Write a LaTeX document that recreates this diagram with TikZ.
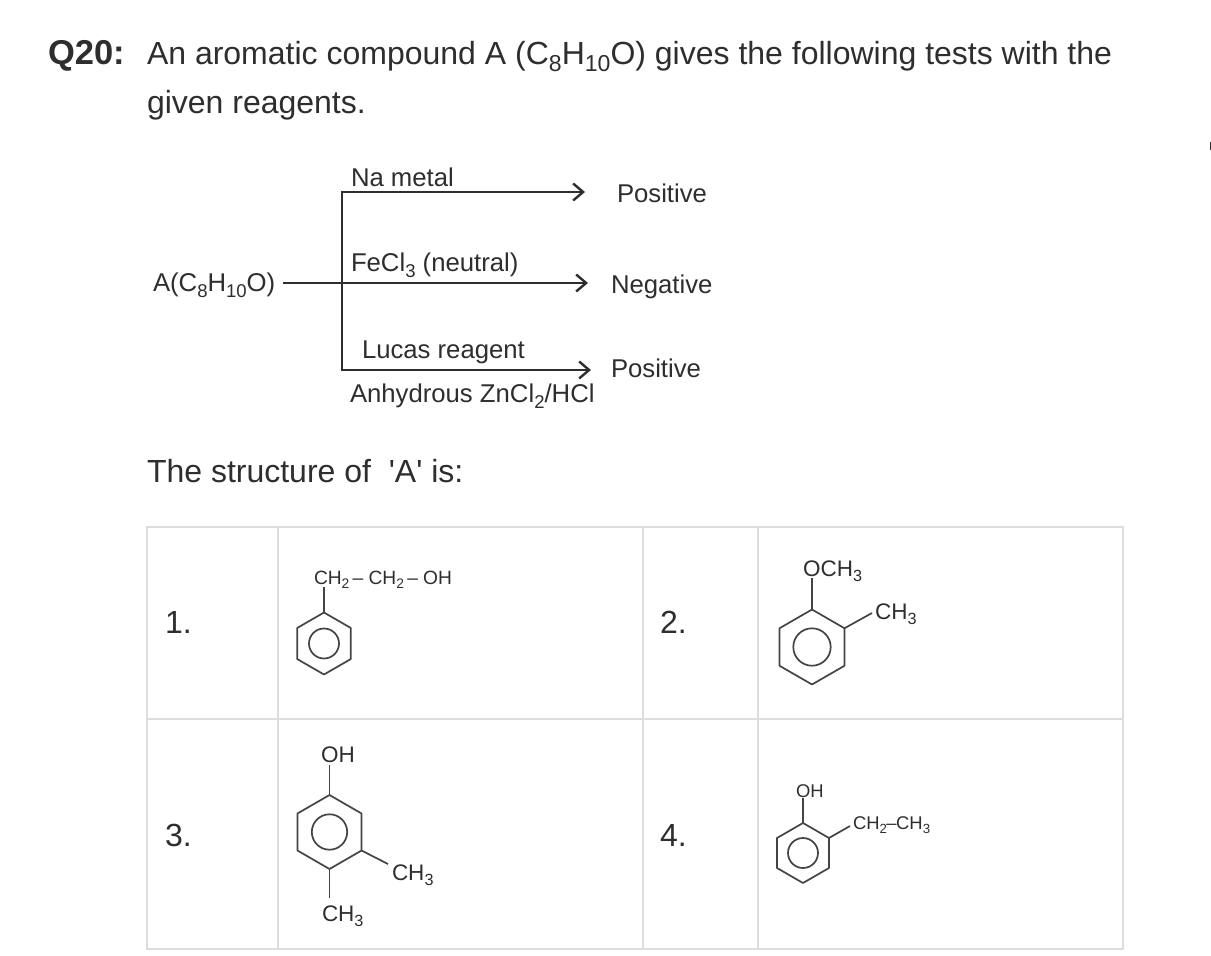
\documentclass[tikz,border=0pt]{standalone}
\usepackage{fontspec}
\usepackage{graphicx}
\setmainfont{Liberation Sans}
\newfontfamily\plainf{Liberation Sans}
\newcommand{\sbs}[1]{\raisebox{-.24em}{\scalebox{.72}{#1}}}
\definecolor{ink}{HTML}{2E2E2E}
\definecolor{gridc}{HTML}{DDDDDD}
\definecolor{bondc}{HTML}{444444}
\usetikzlibrary{arrows.meta,calc}
\tikzset{
  x=1pt,y=-1pt,
  txt/.style={anchor=base west,inner sep=0pt,outer sep=0pt,text=ink},
  big/.style={txt,font=\fontsize{32}{36}\selectfont},
  rx/.style={txt,font=\fontsize{25.7}{30}\selectfont},
  chemA/.style={txt,font=\fontsize{22.5}{26}\selectfont},
  chemB/.style={txt,font=\fontsize{18.4}{22}\selectfont},
  bond/.style={draw=bondc,line width=1.7pt,line join=round},
  rxline/.style={draw=ink,line width=2pt},
  rxarrow/.style={rxline,-{Straight Barb[length=10pt,width=17pt,line width=2.4pt]}},
  grid line/.style={draw=gridc,line width=1.6pt}
}
% #1 name, #2 cx, #3 cy, #4 R, #5 r
\newcommand{\benz}[5]{%
  \coordinate (#1c) at (#2,#3);
  \coordinate (#11) at ($(#1c)+(0,-#4)$);
  \coordinate (#12) at ($(#1c)+(0.866*#4,-0.5*#4)$);
  \coordinate (#13) at ($(#1c)+(0.866*#4,0.5*#4)$);
  \coordinate (#14) at ($(#1c)+(0,#4)$);
  \coordinate (#15) at ($(#1c)+(-0.866*#4,0.5*#4)$);
  \coordinate (#16) at ($(#1c)+(-0.866*#4,-0.5*#4)$);
  \draw[bond] (#11)--(#12)--(#13)--(#14)--(#15)--(#16)--cycle;
  \draw[bond] (#1c) circle[radius=#5];
}
\begin{document}
\begin{tikzpicture}
\useasboundingbox (0,0) rectangle (1211,956);
\fill[white] (0,0) rectangle (1211,956);
% heading
\node[big,font=\fontsize{34.5}{38}\selectfont\bfseries] (qno) at (48,64) {Q20:};
\node[big] (l1) at (147,64) {An aromatic compound A (C\sbs{8}H\sbs{10}O) gives the following tests with the};
\node[big] (l2) at (147,113) {given reagents.};
\node[big] (l3) at (147,482) {\plainf The structure of\ \ 'A' is:};
\fill[ink] (1209.5,142) rectangle (1211,150);
% reaction scheme
\node[rx] (a) at (153,291) {A(C\sbs{8}H\sbs{10}O)};
\coordinate (top) at (342,192);
\coordinate (mid) at (342,283);
\coordinate (bot) at (342,370);
\node[rx] (namet) at (351,186) {Na metal};
\node[rx] (fecl) at (351,271) {FeCl\sbs{3} (neutral)};
\node[rx] (lucas) at (362,358) {Lucas reagent};
\node[rx] (anh) at (350,402) {Anhydrous ZnCl\sbs{2}/HCl};
\node[rx] (p1) at (617,202) {Positive};
\node[rx] (n1) at (611,293) {Negative};
\node[rx] (p2) at (611,377) {Positive};
\coordinate (e1) at (585,192);
\coordinate (e2) at (588,283);
\coordinate (e3) at (591,370);
\coordinate (as) at (283,283);
\draw[rxline,line cap=rect] (top)--(bot);
\draw[rxarrow] (top)--(e1);
\draw[rxarrow] (as)--(e2);
\draw[rxarrow] (bot)--(e3);
% table
\draw[grid line] (147,527) rectangle (1123,949);
\draw[grid line] (147,719)--(1123,719);
\foreach \xx in {278,643,758}{\draw[grid line] (\xx,527)--(\xx,949);}
\node[big] (o1) at (165,633) {1.};
\node[big] (o2) at (660,633) {2.};
\node[big] (o3) at (165,846) {3.};
\node[big] (o4) at (660,846) {4.};
% molecule 1
\benz{m}{324}{643.5}{31}{15}
\coordinate (mt) at (324,587);
\draw[bond] (m1)--(mt);
\node[chemA,font=\fontsize{19.2}{22}\selectfont] (m1l) at (314,584) {CH\sbs{2}\,– CH\sbs{2}\,– OH};
% molecule 2
\benz{n}{812}{647}{37.5}{18.7}
\coordinate (nt) at (812,578);
\coordinate (ns) at (872,613);
\draw[bond] (n1)--(nt);
\draw[bond] (n2)--(ns);
\node[chemA] (n1l) at (803,576) {OCH\sbs{3}};
\node[chemA] (n2l) at (875,619) {CH\sbs{3}};
% molecule 3
\benz{p}{329.5}{832}{37}{17.7}
\coordinate (pt) at (329.5,765);
\coordinate (pb) at (329.5,898);
\coordinate (ps) at (388,864);
\draw[bond] (p1)--(pt);
\draw[bond] (p4)--(pb);
\draw[bond] (p3)--(ps);
\node[chemA] (p1l) at (321,762) {OH};
\node[chemA] (p2l) at (392,880) {CH\sbs{3}};
\node[chemA] (p3l) at (322,921) {CH\sbs{3}};
% molecule 4
\benz{q}{803}{853}{30}{15}
\coordinate (qt) at (803,798);
\coordinate (qs) at (850,826);
\draw[bond] (q1)--(qt);
\draw[bond] (q2)--(qs);
\node[chemB] (q1l) at (796,797) {OH};
\node[chemB] (q2l) at (853,829) {CH\sbs{2}\kern-.5pt–\kern-.5pt CH\sbs{3}};
\end{tikzpicture}
\end{document}
